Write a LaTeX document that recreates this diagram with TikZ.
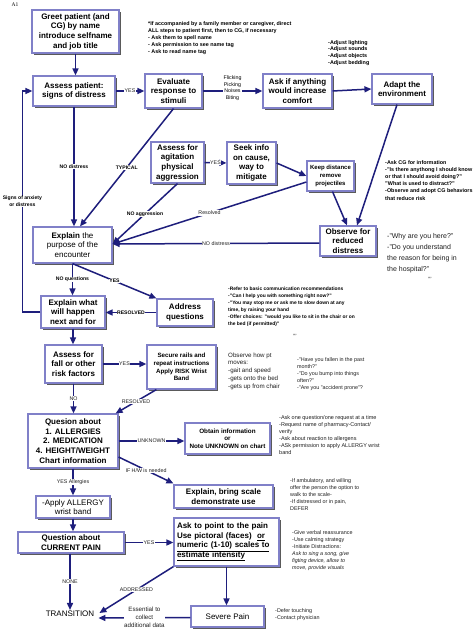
\documentclass[tikz,border=0pt]{standalone}
\usepackage{fontspec}
\setmainfont{Liberation Sans}
\newfontfamily\serifA{Liberation Serif}
\usetikzlibrary{arrows.meta,shadows,calc}
\definecolor{navy}{HTML}{1E1E7C}
\definecolor{boxline}{HTML}{8080C8}
\definecolor{shad}{HTML}{5A5A5A}
\tikzset{
  box/.style={draw=boxline, line width=1.2pt, fill=white, align=center, inner sep=1pt,
    font=\bfseries\fontsize{8}{9.7}\selectfont,
    drop shadow={shadow xshift=1.8pt, shadow yshift=-1.8pt, fill=shad, opacity=1}},
  boxsmall/.style={font=\bfseries\fontsize{6.2}{7.7}\selectfont},
  boxreg/.style={font=\fontsize{8}{9.7}\selectfont},
  arr/.style={draw=navy, line width=1.5pt, -{Triangle[length=7pt,width=6pt]}},
  lbl/.style={fill=white, inner sep=0.6pt, text=black!88, align=center, font=\fontsize{5.3}{6.7}\selectfont},
  lblb/.style={lbl, text=black, font=\bfseries\fontsize{5.1}{6.7}\selectfont},
  notetxt/.style={anchor=north west, align=left, inner sep=0pt, text=black!88, font=\fontsize{5.4}{7}\selectfont},
  notebold/.style={notetxt, text=black, font=\bfseries\fontsize{5.4}{7}\selectfont},
}
\begin{document}
\begin{tikzpicture}[x=1pt,y=-1pt]
\useasboundingbox (0,0) rectangle (474,631);
\fill[white] (0,0) rectangle (474,631);

\node[inner sep=0pt, font=\serifA\fontsize{5.5}{6}\selectfont] (a1) at (15,5) {A1};

% boxes
\node[box, minimum width=87pt, minimum height=43pt] (greet) at (75.5,31.5) {Greet patient (and\\CG) by name\\introduce selfname\\and job title};
\node[box, minimum width=82pt, minimum height=30pt] (assess) at (74,91) {Assess patient:\\signs of distress};
\node[box, minimum width=57pt, minimum height=34pt] (evaluate) at (173.5,91) {Evaluate\\response to\\stimuli};
\node[box, minimum width=69pt, minimum height=34pt] (askif) at (297.5,91) {Ask if anything\\would increase\\comfort};
\node[box, minimum width=60pt, minimum height=30pt] (adapt) at (402,89) {Adapt the\\environment};
\node[box, minimum width=53pt, minimum height=41pt] (agit) at (177.5,162.5) {Assess for\\agitation\\physical\\aggression};
\node[box, boxsmall, font=\bfseries\fontsize{6}{8}\selectfont, minimum width=47pt, minimum height=30pt] (keep) at (330.5,176) {Keep distance\\remove\\projectiles};
\node[box, minimum width=49pt, minimum height=42pt] (seek) at (251.5,163) {Seek info\\on cause,\\way to\\mitigate};
\node[box, minimum width=56pt, minimum height=30pt] (observe) at (348,241) {Observe for\\reduced\\distress};
\node[box, boxreg, minimum width=79pt, minimum height=36pt] (purpose) at (72.5,245) {\textbf{Explain} the\\purpose of the\\encounter};
\node[box, minimum width=64pt, minimum height=32pt] (whatnext) at (73,312) {Explain what\\will happen\\next and for};
\node[box, minimum width=56pt, minimum height=27pt] (address) at (185,312.5) {Address\\questions};
\node[box, minimum width=57pt, minimum height=38pt] (fall) at (73.5,364) {Assess for\\fall or other\\risk factors};
\node[box, boxsmall, minimum width=69pt, minimum height=44pt] (secure) at (181.5,367) {Secure rails and\\repeat instructions\\Apply RISK Wrist\\Band};
\node[box, minimum width=90pt, minimum height=54pt] (question) at (73,441) {Quesion about\\1. ALLERGIES\\2. MEDICATION\\4. HEIGHT/WEIGHT\\Chart information};
\node[box, font=\bfseries\fontsize{6.3}{7.3}\selectfont, minimum width=85pt, minimum height=31pt] (obtain) at (227.5,438.5) {Obtain information\\or\\Note UNKNOWN on chart};
\node[box, minimum width=99pt, minimum height=23pt] (scale) at (223.5,496.5) {Explain, bring scale\\demonstrate use};
\node[box, boxreg, minimum width=74pt, minimum height=22pt] (apply) at (73,507) {-Apply ALLERGY\\wrist band};
\node[box, minimum width=106pt, minimum height=21pt] (pain) at (71,542.5) {Question about\\CURRENT PAIN};
\node[box, align=left, text width=99pt, inner xsep=3pt, minimum height=48pt] (point) at (226.5,542) {Ask to point to the pain\\Use pictoral (faces) \ \underline{or}\\\underline{numeric (1-10) scales to}\\\underline{estimate intensity}};
\node[box, boxreg, minimum width=73pt, minimum height=21pt] (severe) at (227.5,616.5) {Severe Pain};
\node[inner sep=1pt, font=\fontsize{8}{9.7}\selectfont] (trans) at (70,614) {TRANSITION};

% connectors
\draw[arr] (greet.south) -- (greet.south |- assess.north);
\draw[arr] (assess.east) -- node[lbl] {YES} (evaluate.west);
\draw[arr] (evaluate.east) -- node[lbl, yshift=3pt, text=black, font=\fontsize{5.3}{6.7}\selectfont] {Flicking\\Picking\\Noises\\Biting} (askif.west);
\draw[arr] (askif.east) -- (adapt.west);
\draw[arr] ($(adapt.south)+(-5,0)$) -- ($(observe.north)+(9,0)$);
\draw[arr] (evaluate.south) -- node[lblb] {TYPICAL} ($(purpose.north)+(7.5,0)$);
\draw[arr] (assess.south) -- node[lblb] {NO distress} (assess.south |- purpose.north);
\draw[arr] (agit.east) -- node[lbl] {YES} (seek.west);
\coordinate (pin) at ($(purpose.east)+(0,-1)$);
\draw[arr] (agit.south) -- node[lblb] {NO aggression} (pin);
\draw[arr] (seek.east) -- (keep.west);
\draw[arr] ($(keep.west)+(0,6)$) -- node[lbl] {Resolved} (pin);
\draw[arr] ($(keep.south)+(2,0)$) -- ($(observe.north)+(-1,0)$);
\draw[arr] ($(observe.west)+(0,2)$) -- node[lbl] {NO distress} (pin);
\draw[arr] (purpose.south) -- node[lblb] {NO questions} (purpose.south |- whatnext.north);
\draw[arr] (purpose.south) -- node[lblb] {YES} (address.north west);
\draw[arr] (address.west) -- node[lblb] {RESOLVED} (address.west -| whatnext.east);
\draw[arr] (whatnext.west) -- ++(-18,0) coordinate (c1) -- node[lblb] {Signs of anxiety\\or distress} (c1 |- assess.west) -- (assess.west);
\draw[arr] (whatnext.south) -- (whatnext.south |- fall.north);
\draw[arr] (fall.east) -- node[lbl] {YES} (fall.east -| secure.west);
\draw[arr] (fall.south) -- node[lbl] {NO} (fall.south |- question.north);
\draw[arr] ($(secure.south west)+(10,0)$) -- node[lbl] {RESOLVED} ($(question.north east)+(-3,0)$);
\draw[arr] (question.east) -- node[lbl] {UNKNOWN} (question.east -| obtain.west);
\draw[arr] ($(question.east)+(0,16)$) -- node[lbl] {IF H/W is needed} ($(scale.north west)+(0,-1)$);
\draw[arr] (question.south) -- node[lbl] {YES Allergies} (question.south |- apply.north);
\draw[arr] (apply.south) -- (apply.south |- pain.north);
\draw[arr] (pain.east) -- node[lbl] {YES} (pain.east -| point.west);
\draw[arr] ($(pain.south)+(-1,0)$) -- node[lbl] {NONE} (trans.north);
\draw[arr] (point.south west) -- node[lbl] {ADDRESSED} ($(trans.east)+(4,-1)$);
\draw[arr] (point.south) -- (point.south |- severe.north);
\draw[arr] ($(severe.west)+(0,1)$) -- node[lbl, font=\fontsize{6.2}{8}\selectfont] {Essential to\\collect\\additional data} ($(trans.east)+(3,4)$);

% notes
\node[notebold] (n1) at (148,21) {*If accompanied by a family member or caregiver, direct\\ALL steps to patient first, then to CG, if necessary\\- Ask them to spell name\\- Ask permission to see name tag\\- Ask to read name tag};
\node[notebold, font=\bfseries\fontsize{5.4}{6.8}\selectfont] (n2) at (328,40) {-Adjust lighting\\-Adjust sounds\\-Adjust objects\\-Adjust bedding};
\node[notebold, font=\bfseries\fontsize{5.4}{7.2}\selectfont] (n3) at (385,160) {-Ask CG for information\\-"Is there anythong I should know\\or that I should avoid doing?"\\"What is used to distract?"\\-Observe and adopt CG behaviors\\that reduce risk};
\node[notetxt, font=\fontsize{7}{11}\selectfont] (n4) at (387,233) {-"Why are you here?"\\-"Do you understand\\the reason for being in\\the hospital?"};
\node[inner sep=0pt, text=black!85, font=\fontsize{6}{7}\selectfont] (n4b) at (430,279) {'''};
\node[notebold, font=\bfseries\fontsize{4.9}{7}\selectfont] (n5) at (228,286.5) {-Refer to basic communication recommendations\\-"Can I help you with something right now?"\\-"You may stop me or ask me to slow down at any\\time, by raising your hand\\-Offer choices: "would you like to sit in the chair or on\\the bed (if permitted)"};
\node[inner sep=0pt, text=black!85, font=\fontsize{6}{7}\selectfont] (n5b) at (295,336) {'''};
\node[notetxt, font=\fontsize{6.2}{7.8}\selectfont] (n6) at (228,352.5) {Observe how pt\\moves:\\-gait and speed\\-gets onto the bed\\-gets up from chair};
\node[notetxt] (n7) at (297,357) {-"Have you fallen in the past\\month?"\\-"Do you bump into things\\often?"\\-"Are you "accident prone"?};
\node[notetxt, font=\fontsize{5.5}{7}\selectfont] (n8) at (279,415) {-Ask one question/one request at a time\\-Request name of pharmacy-Contact/\\verify\\-Ask about reaction to allergens\\-ASk permission to apply ALLERGY wrist\\band};
\node[notetxt] (n9) at (290,478) {-If ambulatory, and willing\\offer the person the option to\\walk to the scale-\\-If distressed or in pain,\\DEFER};
\node[notetxt] (n10) at (292,530) {-Give verbal reassurance\\-Use calming strategy\\-Initiate Distractions:\\\textit{Ask to sing a song, give}\\\textit{figting device, allow to}\\\textit{move, provide visuals}};
\node[notetxt] (n11) at (275,608) {-Defer touching\\-Contact physician};
\end{tikzpicture}
\end{document}
